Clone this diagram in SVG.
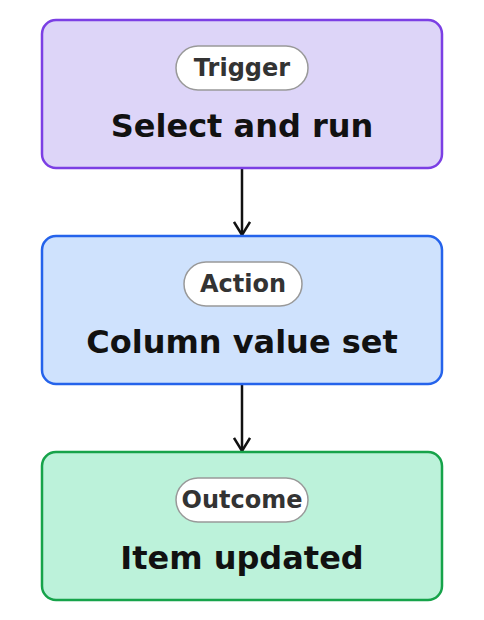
<svg xmlns="http://www.w3.org/2000/svg" width="484" height="620" viewBox="0 0 484 620">
<defs>
<style>
.box{stroke-width:2.5}
.pill{fill:#ffffff;stroke:#999999;stroke-width:1.5}
.tag{font-family:"DejaVu Sans",sans-serif;font-weight:bold;font-size:24px;fill:#333333;text-anchor:middle}
.title{font-family:"DejaVu Sans",sans-serif;font-weight:bold;font-size:32px;fill:#111111;text-anchor:middle}
.edge{stroke:#111111;stroke-width:2.5;fill:none}
</style>
<marker id="arr" viewBox="0 0 16 18" refX="14" refY="9" markerWidth="16" markerHeight="18" markerUnits="userSpaceOnUse" orient="auto">
<path d="M1,1 L14,9 L1,17" fill="none" stroke="#111111" stroke-width="2.5" stroke-linejoin="miter"/>
</marker>
</defs>
<rect width="484" height="620" fill="#ffffff"/>
<g id="connectors">
<path class="edge" d="M242,169 L242,235" marker-end="url(#arr)"/>
<path class="edge" d="M242,385 L242,451" marker-end="url(#arr)"/>
</g>
<g id="trigger">
<rect class="box" x="42" y="20" width="400" height="148" rx="14" fill="#ddd5f8" stroke="#7b3fe4"/>
<rect class="pill" x="176" y="46" width="132" height="44" rx="22"/>
<text class="tag" x="242" y="76">Trigger</text>
<text class="title" x="242" y="137">Select and run</text>
</g>
<g id="action">
<rect class="box" x="42" y="236" width="400" height="148" rx="14" fill="#cfe2fd" stroke="#2563eb"/>
<rect class="pill" x="184" y="262" width="118" height="44" rx="22"/>
<text class="tag" x="243" y="292">Action</text>
<text class="title" x="242" y="353">Column value set</text>
</g>
<g id="outcome">
<rect class="box" x="42" y="452" width="400" height="148" rx="14" fill="#bcf2da" stroke="#16a34a"/>
<rect class="pill" x="176" y="478" width="132" height="44" rx="22"/>
<text class="tag" x="242" y="508">Outcome</text>
<text class="title" x="242" y="569">Item updated</text>
</g>
</svg>
